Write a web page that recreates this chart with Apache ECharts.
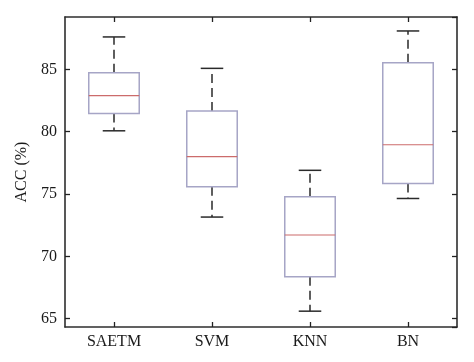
<!DOCTYPE html>
<html>
<head>
<meta charset="utf-8">
<script src="https://cdn.jsdelivr.net/npm/echarts@6/dist/echarts.min.js"></script>
<style>html,body{margin:0;padding:0;background:#fff}#c{width:474px;height:362px}</style>
</head>
<body>
<div id="c"></div>
<script>
var categories = ['SAETM', 'SVM', 'KNN', 'BN'];
var lowerWhisker = [80.07, 73.15, 65.6, 74.64];
var q1 = [81.45, 75.58, 68.36, 75.84];
var median = [82.9, 78.0, 71.71, 78.95];
var q3 = [84.73, 81.65, 74.78, 85.53];
var upperWhisker = [87.6, 85.08, 76.9, 88.08];
var yTicks = [65, 70, 75, 80, 85];
var yName = 'ACC (%)';

var data = categories.map(function (c, i) {
  return [i, lowerWhisker[i], q1[i], median[i], q3[i], upperWhisker[i]];
});

var FONT = 'Liberation Serif';
var AX = '#2e2e2e';
var yMin = 64.33, yMax = 89.2;

function fmt(v) {
  for (var k = 0; k < yTicks.length; k++) if (Math.abs(v - yTicks[k]) < 1e-6) return String(yTicks[k]);
  return '';
}
var tickStyle = {show: true, inside: true, length: 5, lineStyle: {color: '#222', width: 1.3}};

var chart = echarts.init(document.getElementById('c'), null, {renderer: 'canvas'});
chart.setOption({
  animation: false,
  backgroundColor: '#fff',
  grid: {left: 65, right: 17, top: 17, bottom: 35},
  xAxis: [{
    type: 'category', data: categories, position: 'bottom',
    axisLine: {show: true, lineStyle: {color: AX, width: 1.6}},
    axisTick: Object.assign({alignWithLabel: true}, tickStyle),
    axisLabel: {fontFamily: FONT, fontSize: 16, color: '#1a1a1a', margin: 7},
    splitLine: {show: false}
  }, {
    type: 'category', data: categories, position: 'top',
    axisLine: {show: true, lineStyle: {color: AX, width: 1.6}},
    axisTick: Object.assign({alignWithLabel: true}, tickStyle),
    axisLabel: {show: false},
    splitLine: {show: false}
  }],
  yAxis: [{
    type: 'value', min: yMin, max: yMax, splitNumber: 5, position: 'left',
    name: yName, nameLocation: 'middle', nameGap: 30,
    nameTextStyle: {fontFamily: FONT, fontSize: 16, color: '#1a1a1a'},
    axisLine: {show: true, lineStyle: {color: AX, width: 1.6}},
    axisTick: tickStyle,
    axisLabel: {fontFamily: FONT, fontSize: 16, color: '#1a1a1a', margin: 8, formatter: fmt, showMinLabel: false, showMaxLabel: false},
    splitLine: {show: false}
  }, {
    type: 'value', min: yMin, max: yMax, splitNumber: 5, position: 'right',
    axisLine: {show: true, lineStyle: {color: AX, width: 1.6}},
    axisTick: tickStyle,
    axisLabel: {show: false},
    splitLine: {show: false}
  }],
  series: [{
    type: 'custom',
    xAxisIndex: 0, yAxisIndex: 0,
    data: data,
    encode: {x: 0, y: [1, 2, 3, 4, 5]},
    renderItem: function (params, api) {
      var x = api.value(0);
      var lo = api.coord([x, api.value(1)]);
      var a = api.coord([x, api.value(2)]);
      var m = api.coord([x, api.value(3)]);
      var b = api.coord([x, api.value(4)]);
      var hi = api.coord([x, api.value(5)]);
      var band = api.size([1, 0])[0];
      var bw = band * 0.515, cw = band * 0.23;
      var cx = lo[0];
      var wStyle = {stroke: '#2a2a2a', lineWidth: 1.5, lineDash: [9, 5]};
      var cStyle = {stroke: '#2a2a2a', lineWidth: 1.5};
      return {
        type: 'group',
        children: [
          {type: 'line', shape: {x1: cx, y1: b[1], x2: cx, y2: hi[1]}, style: wStyle},
          {type: 'line', shape: {x1: cx, y1: a[1], x2: cx, y2: lo[1]}, style: wStyle},
          {type: 'line', shape: {x1: cx - cw / 2, y1: hi[1], x2: cx + cw / 2, y2: hi[1]}, style: cStyle},
          {type: 'line', shape: {x1: cx - cw / 2, y1: lo[1], x2: cx + cw / 2, y2: lo[1]}, style: cStyle},
          {type: 'rect', shape: {x: cx - bw / 2, y: b[1], width: bw, height: a[1] - b[1]},
            style: {fill: '#fff', stroke: '#a6a5c6', lineWidth: 1.5}},
          {type: 'line', shape: {x1: cx - bw / 2, y1: m[1], x2: cx + bw / 2, y2: m[1]},
            style: {stroke: '#cc6b6b', lineWidth: 1.2}}
        ]
      };
    }
  }]
});
</script>
</body>
</html>
